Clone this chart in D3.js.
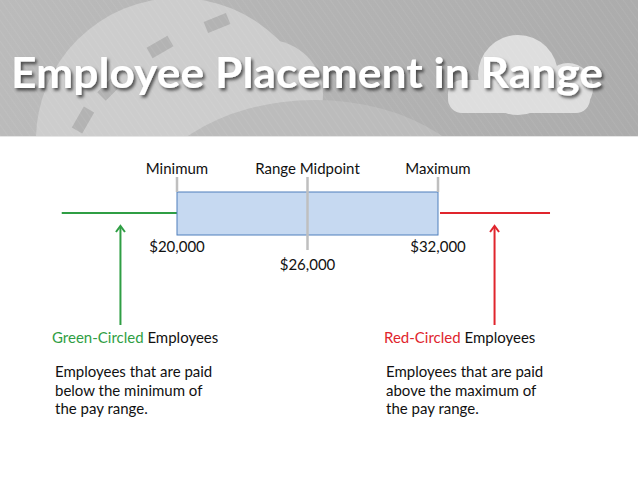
<!DOCTYPE html>
<html><head><meta charset="utf-8">
<script src="https://cdn.jsdelivr.net/npm/d3@7"></script>
<style>
html,body{margin:0;padding:0;background:#fff;}
svg{display:block;font-family:Lato,"Open Sans",sans-serif;}
</style></head>
<body>
<svg id="chart" width="638" height="479"></svg>
<script>
// ---- data ----
const title = "Employee Placement in Range";
const markerNames = ["Minimum", "Range Midpoint", "Maximum"];
const markerValues = [20000, 26000, 32000];
const markerLabels = ["$20,000", "$26,000", "$32,000"];
const belowRange = [14700, 20000];   // green segment (below minimum)
const aboveRange = [32000, 37150];   // red segment (above maximum)
const greenSalary = 17400;
const redSalary = 34600;
const groupNames = ["Green-Circled", "Red-Circled"];
const groupSuffix = " Employees";
const groupNotes = [
  ["Employees that are paid", "below the minimum of", "the pay range."],
  ["Employees that are paid", "above the maximum of", "the pay range."]
];

const svg = d3.select("#chart");
const W = 638, H = 479;
const green = "#2f9e44", red = "#e0252d";
const FS = 15;

// ---- header ----
const defs = svg.append("defs");
const grad = defs.append("linearGradient").attr("id","hg").attr("x1","0").attr("x2","1");
grad.append("stop").attr("offset","0").attr("stop-color","#bbbbbb");
grad.append("stop").attr("offset","1").attr("stop-color","#acacac");
const pat = defs.append("pattern").attr("id","tex").attr("width",6).attr("height",6)
  .attr("patternUnits","userSpaceOnUse").attr("patternTransform","rotate(-35)");
pat.append("line").attr("x1",0).attr("y1",0).attr("x2",0).attr("y2",6)
  .attr("stroke","#ffffff").attr("stroke-opacity",0.06).attr("stroke-width",2);
const clip = defs.append("clipPath").attr("id","hc");
clip.append("rect").attr("width",W).attr("height",136);
const f = defs.append("filter").attr("id","sh").attr("x","-5%").attr("y","-20%").attr("width","110%").attr("height","150%");
f.append("feDropShadow").attr("dx",2).attr("dy",2.5).attr("stdDeviation",1.6)
  .attr("flood-color","#000").attr("flood-opacity",0.6);

const hdr = svg.append("g").attr("clip-path","url(#hc)");
hdr.append("rect").attr("width",W).attr("height",136).attr("fill","url(#hg)");
// big cloud
hdr.append("circle").attr("cx",178).attr("cy",140).attr("r",142).attr("fill","#cdcdcd");
hdr.append("circle").attr("cx",268).attr("cy",95).attr("r",55).attr("fill","#cdcdcd");
hdr.append("ellipse").attr("cx",315).attr("cy",215).attr("rx",175).attr("ry",115).attr("fill","#bcbcbc");
// road dashes
[[217,23,-22],[160,47,-30],[110,88,-45],[83,120,-60]].forEach(d=>{
  hdr.append("rect").attr("x",-12).attr("y",-6).attr("width",24).attr("height",12)
    .attr("transform",`translate(${d[0]},${d[1]}) rotate(${d[2]})`).attr("fill","#b3b3b3");
});
// small cloud
const sc = hdr.append("g").attr("fill","#dedede");
sc.append("circle").attr("cx",518).attr("cy",75).attr("r",40);
sc.append("circle").attr("cx",568).attr("cy",88).attr("r",25);
sc.append("rect").attr("x",448).attr("y",80).attr("width",142).attr("height",33).attr("rx",14);
hdr.append("rect").attr("width",W).attr("height",136).attr("fill","url(#tex)");
svg.append("line").attr("x1",0).attr("x2",W).attr("y1",136.5).attr("y2",136.5)
  .attr("stroke","#e6e6e6").attr("stroke-width",1);

svg.append("text").attr("x",11).attr("y",88)
  .attr("font-size",42).attr("font-weight",700).attr("fill","#ffffff")
  .attr("filter","url(#sh)").attr("textLength",592).attr("lengthAdjust","spacingAndGlyphs")
  .text(title);

// ---- scale ----
const x = d3.scaleLinear().domain([markerValues[0], markerValues[2]]).range([177, 438]);
const yLine = 213, boxTop = 192, boxBot = 235;

// segments
svg.append("line").attr("x1",x(belowRange[0])).attr("x2",x(belowRange[1])).attr("y1",yLine).attr("y2",yLine)
  .attr("stroke",green).attr("stroke-width",2);
svg.append("line").attr("x1",x(aboveRange[0])+2).attr("x2",x(aboveRange[1])).attr("y1",yLine).attr("y2",yLine)
  .attr("stroke",red).attr("stroke-width",2);

// box
svg.append("rect").attr("x",x(markerValues[0])).attr("y",boxTop)
  .attr("width",x(markerValues[2])-x(markerValues[0])).attr("height",boxBot-boxTop)
  .attr("fill","#c6d9f1").attr("stroke","#4f7fbc").attr("stroke-width",1);

// marker ticks
svg.selectAll(".mk").data(markerValues).join("line")
  .attr("x1",d=>x(d)).attr("x2",d=>x(d)).attr("y1",177)
  .attr("y2",(d,i)=>i===1?250:boxTop)
  .attr("stroke","#bfbfbf").attr("stroke-width",2.5);

svg.selectAll(".mn").data(markerNames).join("text")
  .attr("x",(d,i)=>x(markerValues[i])).attr("y",174).attr("text-anchor","middle")
  .attr("font-size",FS).attr("fill","#111").text(d=>d);

svg.selectAll(".ml").data(markerLabels).join("text")
  .attr("x",(d,i)=>x(markerValues[i])).attr("y",(d,i)=>i===1?270:252)
  .attr("text-anchor","middle").attr("font-size",FS).attr("fill","#111").text(d=>d);

// arrows
[[greenSalary,green],[redSalary,red]].forEach(([v,c])=>{
  const ax = x(v), tip = 226;
  svg.append("line").attr("x1",ax).attr("x2",ax).attr("y1",325).attr("y2",tip+1)
    .attr("stroke",c).attr("stroke-width",2);
  svg.append("path").attr("d",`M${ax-4.5},${tip+6} L${ax},${tip} L${ax+4.5},${tip+6}`)
    .attr("fill","none").attr("stroke",c).attr("stroke-width",2).attr("stroke-linejoin","miter");
});

// group labels
const gx = [52, 384], nx = [55, 386];
groupNames.forEach((g,i)=>{
  const tx = svg.append("text").attr("x",gx[i]).attr("y",343).attr("font-size",FS);
  tx.append("tspan").attr("fill",i===0?green:red).text(g);
  tx.append("tspan").attr("fill","#111").text(groupSuffix);
  groupNotes[i].forEach((ln,j)=>{
    svg.append("text").attr("x",nx[i]).attr("y",377+j*18.5).attr("font-size",FS)
      .attr("fill","#111").text(ln);
  });
});
</script>
</body></html>
